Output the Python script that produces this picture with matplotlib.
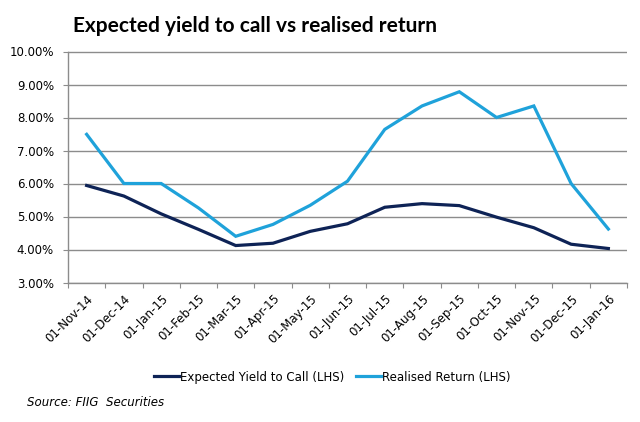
import matplotlib.pyplot as plt
import matplotlib.transforms as mtransforms
import numpy as np

months = ["01-Nov-14", "01-Dec-14", "01-Jan-15", "01-Feb-15", "01-Mar-15",
          "01-Apr-15", "01-May-15", "01-Jun-15", "01-Jul-15", "01-Aug-15",
          "01-Sep-15", "01-Oct-15", "01-Nov-15", "01-Dec-15", "01-Jan-16"]
expected_ytc = [5.94, 5.62, 5.08, 4.61, 4.12, 4.19, 4.55, 4.78, 5.28, 5.39,
                5.33, 4.98, 4.66, 4.16, 4.03]
realised = [7.49, 6.00, 6.00, 5.26, 4.40, 4.76, 5.34, 6.07, 7.64, 8.35,
            8.78, 8.00, 8.35, 6.00, 4.62]
y_ticks = [3, 4, 5, 6, 7, 8, 9, 10]

navy = "#0E2356"
sky = "#1FA2DA"
grey = "#8C8C8C"

fig = plt.figure(figsize=(6.4, 4.22), dpi=100)
ax = fig.add_axes([68 / 640, 1 - 282.5 / 422, 559 / 640, 231 / 422])

x = np.arange(len(months))
ax.plot(x, expected_ytc, color=navy, linewidth=2.3, label="Expected Yield to Call (LHS)",
        solid_joinstyle="miter", zorder=3)
ax.plot(x, realised, color=sky, linewidth=2.3, label="Realised Return (LHS)",
        solid_joinstyle="miter", zorder=3)

ax.set_xlim(-0.5, len(months) - 0.5)
ax.set_ylim(3, 10)
ax.set_yticks(y_ticks)
ax.set_yticklabels([f"{v:.2f}%" for v in y_ticks], fontsize=8.5)
ax.yaxis.grid(True, color=grey, linewidth=1)
ax.set_axisbelow(True)

# tick marks sit between categories, labels sit at the category centres
ax.set_xticks(np.arange(-0.5, len(months), 1.0))
ax.set_xticklabels([])
ax.set_xticks(x, minor=True)
ax.set_xticklabels(months, minor=True, rotation=45, ha="right", va="top",
                   rotation_mode="anchor", fontsize=8.5)
shift = mtransforms.ScaledTranslation(7 / 100, 0, fig.dpi_scale_trans)
for lbl in ax.get_xticklabels(minor=True):
    lbl.set_transform(lbl.get_transform() + shift)
ax.tick_params(axis="x", which="minor", length=0, pad=7)
ax.tick_params(axis="x", which="major", length=3.6, color=grey, direction="out")
ax.tick_params(axis="y", length=3.6, color=grey, direction="out", pad=6.5)

for side in ["top", "right"]:
    ax.spines[side].set_visible(False)
for side in ["left", "bottom"]:
    ax.spines[side].set_color(grey)
    ax.spines[side].set_linewidth(1)

fig.text(73 / 640, 1 - 32 / 422, "Expected yield to call vs realised return",
         fontsize=15, fontweight="bold", family="Lato", va="baseline", ha="left")

fig.legend(loc="center", bbox_to_anchor=(332 / 640, 1 - 377 / 422), ncol=2, frameon=False,
           fontsize=8.5, handlelength=2.1, handletextpad=0.1, columnspacing=1.0)

fig.text(27 / 640, 1 - 403 / 422, "Source: FIIG  Securities", fontsize=8.5,
         style="italic", va="center", ha="left")

fig.savefig("out.png", dpi=100, facecolor="white")
